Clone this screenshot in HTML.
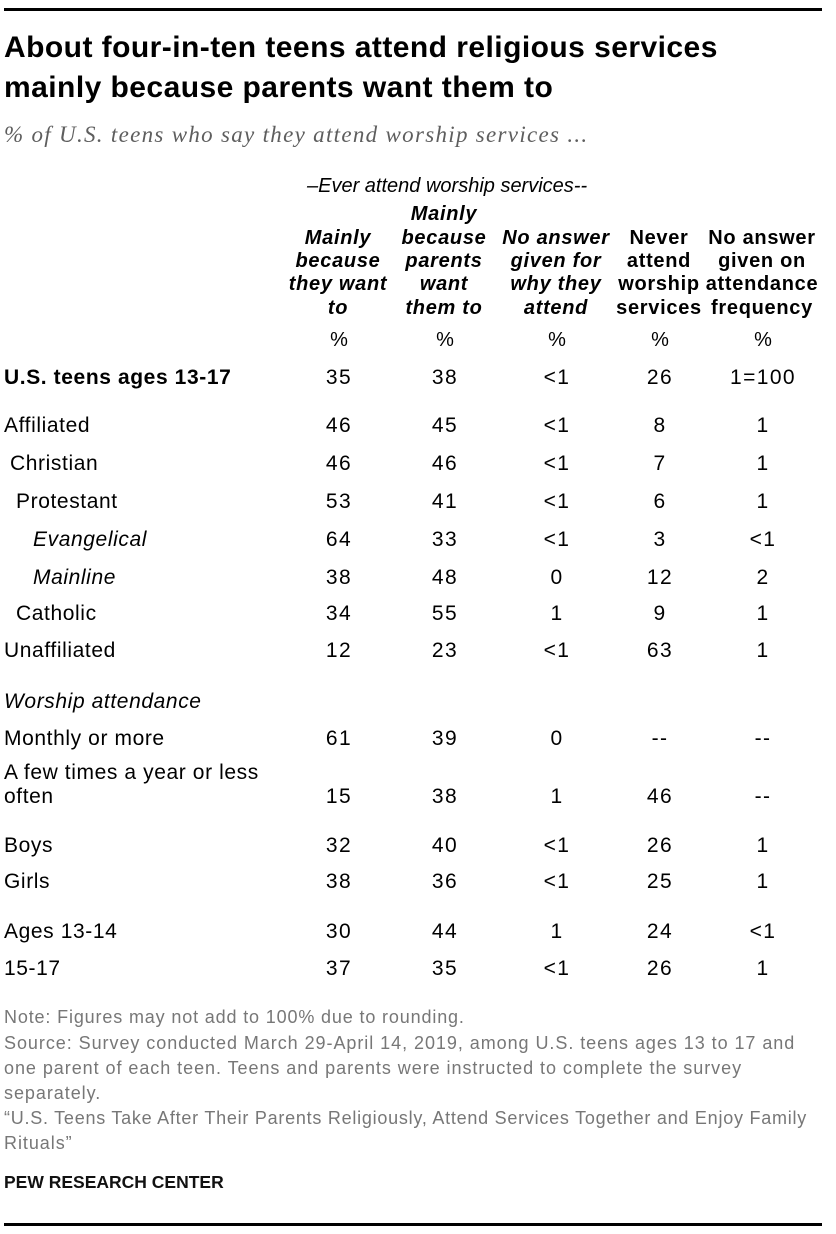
<!DOCTYPE html>
<html>
<head>
<meta charset="utf-8">
<style>
  html, body { margin: 0; padding: 0; background: #fff; }
  body { width: 836px; height: 1234px; position: relative; overflow: hidden;
         font-family: "Liberation Sans", Arial, sans-serif; color: #000; }
  .a { position: absolute; white-space: nowrap; }
  .rule { position: absolute; left: 4px; width: 818px; height: 3px; background: #000; }
  .title { left: 4px; font-weight: bold; font-size: 30px; letter-spacing: 0.45px; line-height: 40px; height: 40px; }
  .sub { left: 4px; font-family: "Liberation Serif", "Times New Roman", serif; font-style: italic;
         font-size: 23px; letter-spacing: 1.3px; color: #5e5e5e; line-height: 30px; height: 30px; }
  .lab { font-size: 21px; letter-spacing: 0.6px; line-height: 24px; height: 24px; }
  .num { font-size: 21px; letter-spacing: 1.4px; line-height: 24px; height: 24px; width: 120px; text-align: center; padding-left: 1px; }
  .hd { font-size: 20px; font-weight: bold; letter-spacing: 0.7px; line-height: 24px; height: 24px; width: 130px; text-align: center; }
  .hi { font-style: italic; }
  .note { left: 4px; font-size: 18px; letter-spacing: 0.95px; color: #777; line-height: 24px; height: 24px; }
  .pew { left: 4px; font-size: 17.5px; font-weight: bold; line-height: 24px; height: 24px; color: #111; }
</style>
</head>
<body>

<div class="rule" style="top:8px;"></div>

<div class="a title" style="top:28px;">About four-in-ten teens attend religious services</div>
<div class="a title" style="top:68px;">mainly because parents want them to</div>

<div class="a sub" style="top:120px;">% of U.S. teens who say they attend worship services ...</div>

<div class="a" style="top:174px; left:307px; font-size:20px; font-style:italic; line-height:24px;">–Ever attend worship services--</div>

<div class="a hd hi" style="left:273px; top:226px;">Mainly</div>
<div class="a hd hi" style="left:273px; top:249px;">because</div>
<div class="a hd hi" style="left:273px; top:272px;">they want</div>
<div class="a hd hi" style="left:273px; top:296px;">to</div>

<div class="a hd hi" style="left:379px; top:202px;">Mainly</div>
<div class="a hd hi" style="left:379px; top:226px;">because</div>
<div class="a hd hi" style="left:379px; top:249px;">parents</div>
<div class="a hd hi" style="left:379px; top:272px;">want</div>
<div class="a hd hi" style="left:379px; top:296px;">them to</div>

<div class="a hd hi" style="left:491px; top:226px;">No answer</div>
<div class="a hd hi" style="left:491px; top:249px;">given for</div>
<div class="a hd hi" style="left:491px; top:272px;">why they</div>
<div class="a hd hi" style="left:491px; top:296px;">attend</div>

<div class="a hd" style="left:594px; top:226px;">Never</div>
<div class="a hd" style="left:594px; top:249px;">attend</div>
<div class="a hd" style="left:594px; top:272px;">worship</div>
<div class="a hd" style="left:594px; top:296px;">services</div>

<div class="a hd" style="left:697px; top:226px;">No answer</div>
<div class="a hd" style="left:697px; top:249px;">given on</div>
<div class="a hd" style="left:697px; top:272px;">attendance</div>
<div class="a hd" style="left:697px; top:296px;">frequency</div>

<div class="a num" style="left:278px; top:328px; font-size:20px; letter-spacing:0;">%</div>
<div class="a num" style="left:384px; top:328px; font-size:20px; letter-spacing:0;">%</div>
<div class="a num" style="left:496px; top:328px; font-size:20px; letter-spacing:0;">%</div>
<div class="a num" style="left:599px; top:328px; font-size:20px; letter-spacing:0;">%</div>
<div class="a num" style="left:702px; top:328px; font-size:20px; letter-spacing:0;">%</div>

<div class="a lab" style="left:4px; top:366px; font-weight:bold;">U.S. teens ages 13-17</div>
<div class="a num" style="left:278px; top:366px;">35</div>
<div class="a num" style="left:384px; top:366px;">38</div>
<div class="a num" style="left:496px; top:366px;">&lt;1</div>
<div class="a num" style="left:599px; top:366px;">26</div>
<div class="a num" style="left:702px; top:366px;">1=100</div>

<div class="a lab" style="left:4px; top:414px;">Affiliated</div>
<div class="a num" style="left:278px; top:414px;">46</div>
<div class="a num" style="left:384px; top:414px;">45</div>
<div class="a num" style="left:496px; top:414px;">&lt;1</div>
<div class="a num" style="left:599px; top:414px;">8</div>
<div class="a num" style="left:702px; top:414px;">1</div>

<div class="a lab" style="left:10px; top:452px;">Christian</div>
<div class="a num" style="left:278px; top:452px;">46</div>
<div class="a num" style="left:384px; top:452px;">46</div>
<div class="a num" style="left:496px; top:452px;">&lt;1</div>
<div class="a num" style="left:599px; top:452px;">7</div>
<div class="a num" style="left:702px; top:452px;">1</div>

<div class="a lab" style="left:16px; top:490px;">Protestant</div>
<div class="a num" style="left:278px; top:490px;">53</div>
<div class="a num" style="left:384px; top:490px;">41</div>
<div class="a num" style="left:496px; top:490px;">&lt;1</div>
<div class="a num" style="left:599px; top:490px;">6</div>
<div class="a num" style="left:702px; top:490px;">1</div>

<div class="a lab" style="left:33px; top:528px; font-style:italic;">Evangelical</div>
<div class="a num" style="left:278px; top:528px;">64</div>
<div class="a num" style="left:384px; top:528px;">33</div>
<div class="a num" style="left:496px; top:528px;">&lt;1</div>
<div class="a num" style="left:599px; top:528px;">3</div>
<div class="a num" style="left:702px; top:528px;">&lt;1</div>

<div class="a lab" style="left:33px; top:566px; font-style:italic;">Mainline</div>
<div class="a num" style="left:278px; top:566px;">38</div>
<div class="a num" style="left:384px; top:566px;">48</div>
<div class="a num" style="left:496px; top:566px;">0</div>
<div class="a num" style="left:599px; top:566px;">12</div>
<div class="a num" style="left:702px; top:566px;">2</div>

<div class="a lab" style="left:16px; top:602px;">Catholic</div>
<div class="a num" style="left:278px; top:602px;">34</div>
<div class="a num" style="left:384px; top:602px;">55</div>
<div class="a num" style="left:496px; top:602px;">1</div>
<div class="a num" style="left:599px; top:602px;">9</div>
<div class="a num" style="left:702px; top:602px;">1</div>

<div class="a lab" style="left:4px; top:639px;">Unaffiliated</div>
<div class="a num" style="left:278px; top:639px;">12</div>
<div class="a num" style="left:384px; top:639px;">23</div>
<div class="a num" style="left:496px; top:639px;">&lt;1</div>
<div class="a num" style="left:599px; top:639px;">63</div>
<div class="a num" style="left:702px; top:639px;">1</div>

<div class="a lab" style="left:4px; top:690px; font-style:italic;">Worship attendance</div>

<div class="a lab" style="left:4px; top:727px;">Monthly or more</div>
<div class="a num" style="left:278px; top:727px;">61</div>
<div class="a num" style="left:384px; top:727px;">39</div>
<div class="a num" style="left:496px; top:727px;">0</div>
<div class="a num" style="left:599px; top:727px;">--</div>
<div class="a num" style="left:702px; top:727px;">--</div>

<div class="a lab" style="left:4px; top:761px;">A few times a year or less</div>
<div class="a lab" style="left:4px; top:785px;">often</div>
<div class="a num" style="left:278px; top:785px;">15</div>
<div class="a num" style="left:384px; top:785px;">38</div>
<div class="a num" style="left:496px; top:785px;">1</div>
<div class="a num" style="left:599px; top:785px;">46</div>
<div class="a num" style="left:702px; top:785px;">--</div>

<div class="a lab" style="left:4px; top:834px;">Boys</div>
<div class="a num" style="left:278px; top:834px;">32</div>
<div class="a num" style="left:384px; top:834px;">40</div>
<div class="a num" style="left:496px; top:834px;">&lt;1</div>
<div class="a num" style="left:599px; top:834px;">26</div>
<div class="a num" style="left:702px; top:834px;">1</div>

<div class="a lab" style="left:4px; top:870px;">Girls</div>
<div class="a num" style="left:278px; top:870px;">38</div>
<div class="a num" style="left:384px; top:870px;">36</div>
<div class="a num" style="left:496px; top:870px;">&lt;1</div>
<div class="a num" style="left:599px; top:870px;">25</div>
<div class="a num" style="left:702px; top:870px;">1</div>

<div class="a lab" style="left:4px; top:920px;">Ages 13-14</div>
<div class="a num" style="left:278px; top:920px;">30</div>
<div class="a num" style="left:384px; top:920px;">44</div>
<div class="a num" style="left:496px; top:920px;">1</div>
<div class="a num" style="left:599px; top:920px;">24</div>
<div class="a num" style="left:702px; top:920px;">&lt;1</div>

<div class="a lab" style="left:4px; top:957px;">15-17</div>
<div class="a num" style="left:278px; top:957px;">37</div>
<div class="a num" style="left:384px; top:957px;">35</div>
<div class="a num" style="left:496px; top:957px;">&lt;1</div>
<div class="a num" style="left:599px; top:957px;">26</div>
<div class="a num" style="left:702px; top:957px;">1</div>

<div class="a note" style="top:1005px; letter-spacing:0.85px;">Note: Figures may not add to 100% due to rounding.</div>
<div class="a note" style="top:1031px;">Source: Survey conducted March 29-April 14, 2019, among U.S. teens ages 13 to 17 and</div>
<div class="a note" style="top:1056px;">one parent of each teen. Teens and parents were instructed to complete the survey</div>
<div class="a note" style="top:1081px;">separately.</div>
<div class="a note" style="top:1106px; letter-spacing:0.75px;">“U.S. Teens Take After Their Parents Religiously, Attend Services Together and Enjoy Family</div>
<div class="a note" style="top:1131px;">Rituals”</div>

<div class="a pew" style="top:1170px;">PEW RESEARCH CENTER</div>

<div class="rule" style="top:1223px;"></div>

</body>
</html>
